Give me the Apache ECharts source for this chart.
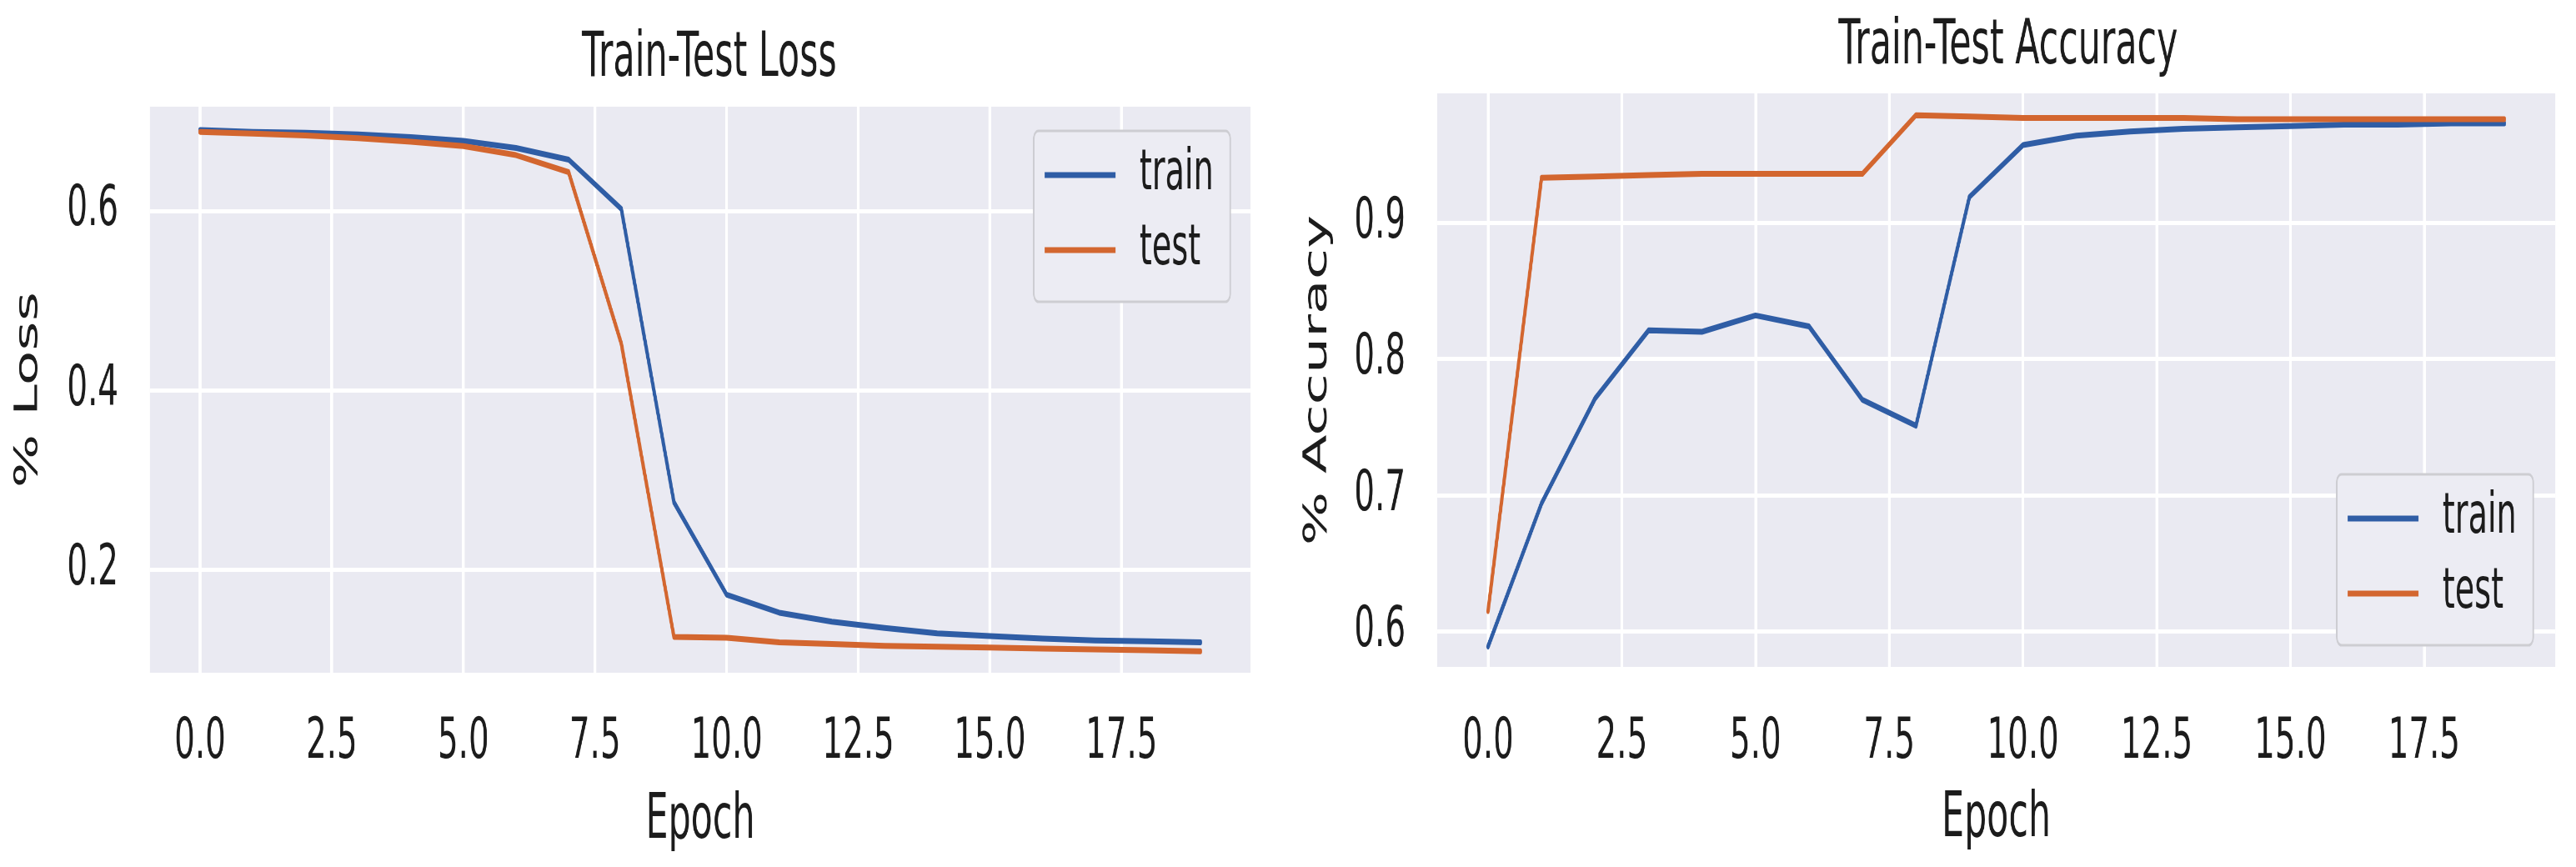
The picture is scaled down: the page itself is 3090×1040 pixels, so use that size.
<!DOCTYPE html>
<html>
<head>
<meta charset="utf-8">
<script src="https://cdn.jsdelivr.net/npm/echarts@6/dist/echarts.min.js"></script>
<style>
  html, body { margin: 0; padding: 0; background: #ffffff; overflow: hidden; }
  #wrap { width: 3090px; height: 1040px; overflow: hidden; position: relative; background: #ffffff; }
  #chart { height: 1040px; transform-origin: 0 0; }
</style>
</head>
<body>
<div id="wrap"><div id="chart"></div></div>
<script>
const epochs = [0, 1, 2, 3, 4, 5, 6, 7, 8, 9, 10, 11, 12, 13, 14, 15, 16, 17, 18, 19];
const lossTrain = [0.690, 0.688, 0.687, 0.685, 0.682, 0.678, 0.670, 0.657, 0.602, 0.275, 0.172, 0.152, 0.142, 0.135, 0.129, 0.126, 0.123, 0.121, 0.120, 0.119];
const lossTest  = [0.688, 0.686, 0.684, 0.681, 0.677, 0.672, 0.662, 0.643, 0.452, 0.125, 0.124, 0.119, 0.117, 0.115, 0.114, 0.113, 0.112, 0.111, 0.110, 0.109];
const accTrain  = [0.589, 0.694, 0.771, 0.821, 0.820, 0.832, 0.824, 0.770, 0.751, 0.919, 0.957, 0.964, 0.967, 0.969, 0.970, 0.971, 0.972, 0.972, 0.973, 0.973];
const accTest   = [0.615, 0.933, 0.934, 0.935, 0.936, 0.936, 0.936, 0.936, 0.979, 0.978, 0.977, 0.977, 0.977, 0.977, 0.976, 0.976, 0.976, 0.976, 0.976, 0.976];
const xTicks    = [0, 2.5, 5, 7.5, 10, 12.5, 15, 17.5];
const lossTicks = [0.2, 0.4, 0.6];
const accTicks  = [0.6, 0.7, 0.8, 0.9];
const seriesNames = ['train', 'test'];
const titles = ['Train-Test Loss', 'Train-Test Accuracy'];
const yNames = ['% Loss', '% Accuracy'];
const xName = 'Epoch';

// The reference figure is horizontally compressed; render wide, then squeeze.
const K = 0.57;
const W = 3090;
const el = document.getElementById('chart');
el.style.width = Math.round(W / K) + 'px';
el.style.transform = 'scaleX(' + K + ')';
const X = v => v / K;   // squeezed-pixel layout value -> unsqueezed

const BLUE = '#2F5DA5';
const ORANGE = '#D3662F';
const TXT = '#1c1c1c';
const FONT = 'DejaVu Sans';
const TICK_FS = 68, TITLE_FS = 75, NAME_FS = 75, YNAME_FS = 68, LEG_FS = 67;

function pairs(ys) { return epochs.map((e, i) => [e, ys[i]]); }

const chart = echarts.init(el, null, { renderer: 'canvas' });

function xAxisCfg(gridIndex, margin, nameGap) {
  return {
    type: 'value', gridIndex: gridIndex, min: -0.95, max: 19.95,
    name: xName, nameLocation: 'middle', nameGap: nameGap,
    nameTextStyle: { fontFamily: FONT, fontSize: NAME_FS, color: TXT },
    axisLine: { show: false },
    axisTick: { show: false, customValues: xTicks },
    axisLabel: { customValues: xTicks, margin: margin, fontFamily: FONT, fontSize: TICK_FS, color: TXT,
      formatter: v => Number(v).toFixed(1) },
    splitLine: { show: true, lineStyle: { color: '#ffffff', width: 6 } }
  };
}
function yAxisCfg(gridIndex, min, max, ticks, name, nameGap) {
  return {
    type: 'value', gridIndex: gridIndex, min: min, max: max,
    name: name, nameLocation: 'middle', nameGap: nameGap, nameRotate: 90,
    nameTextStyle: { fontFamily: FONT, fontSize: YNAME_FS, color: TXT },
    axisLine: { show: false },
    axisTick: { show: false, customValues: ticks },
    axisLabel: { customValues: ticks, margin: X(38), fontFamily: FONT, fontSize: TICK_FS, color: TXT,
      formatter: v => Number(v).toFixed(1) },
    splitLine: { show: true, lineStyle: { color: '#ffffff', width: 5 } }
  };
}
function lineSeries(name, color, xi, yi, ys) {
  return {
    type: 'line', name: name, xAxisIndex: xi, yAxisIndex: yi, data: pairs(ys),
    showSymbol: false, symbol: 'none',
    lineStyle: { color: color, width: 7, cap: 'round', join: 'round' },
    itemStyle: { color: color }, z: 3
  };
}
function legendCfg(left, top) {
  return {
    data: seriesNames, orient: 'vertical', left: X(left), top: top,
    icon: 'rect', itemWidth: X(85), itemHeight: 7, itemGap: 20,
    padding: [18, X(20), 27, X(13)],
    backgroundColor: '#ECECF3', borderColor: '#CDCDD2', borderWidth: 3, borderRadius: 10,
    textStyle: { fontFamily: FONT, fontSize: LEG_FS, color: TXT, lineHeight: 70, padding: [0, 0, 0, X(26)] },
    selectedMode: false
  };
}

const option = {
  animation: false,
  backgroundColor: '#ffffff',
  title: [
    { text: titles[0], left: X(848), top: 29, textAlign: 'center',
      textStyle: { fontFamily: FONT, fontSize: TITLE_FS, fontWeight: 'normal', color: TXT } },
    { text: titles[1], left: X(2406), top: 14, textAlign: 'center',
      textStyle: { fontFamily: FONT, fontSize: TITLE_FS, fontWeight: 'normal', color: TXT } }
  ],
  grid: [
    { left: X(180), top: 128, width: X(1320), height: 679, show: true, backgroundColor: '#EAEAF2', borderWidth: 0, containLabel: false },
    { left: X(1724), top: 112, width: X(1341), height: 688, show: true, backgroundColor: '#EAEAF2', borderWidth: 0, containLabel: false }
  ],
  xAxis: [ xAxisCfg(0, 50, 141), xAxisCfg(1, 57, 146) ],
  yAxis: [
    yAxisCfg(0, 0.085, 0.716, lossTicks, yNames[0], X(126)),
    yAxisCfg(1, 0.574, 0.995, accTicks, yNames[1], X(124))
  ],
  legend: [ legendCfg(1240, 157), legendCfg(2803, 569) ],
  series: [
    lineSeries(seriesNames[0], BLUE, 0, 0, lossTrain),
    lineSeries(seriesNames[1], ORANGE, 0, 0, lossTest),
    lineSeries(seriesNames[0], BLUE, 1, 1, accTrain),
    lineSeries(seriesNames[1], ORANGE, 1, 1, accTest)
  ]
};
chart.setOption(option);
</script>
</body>
</html>
